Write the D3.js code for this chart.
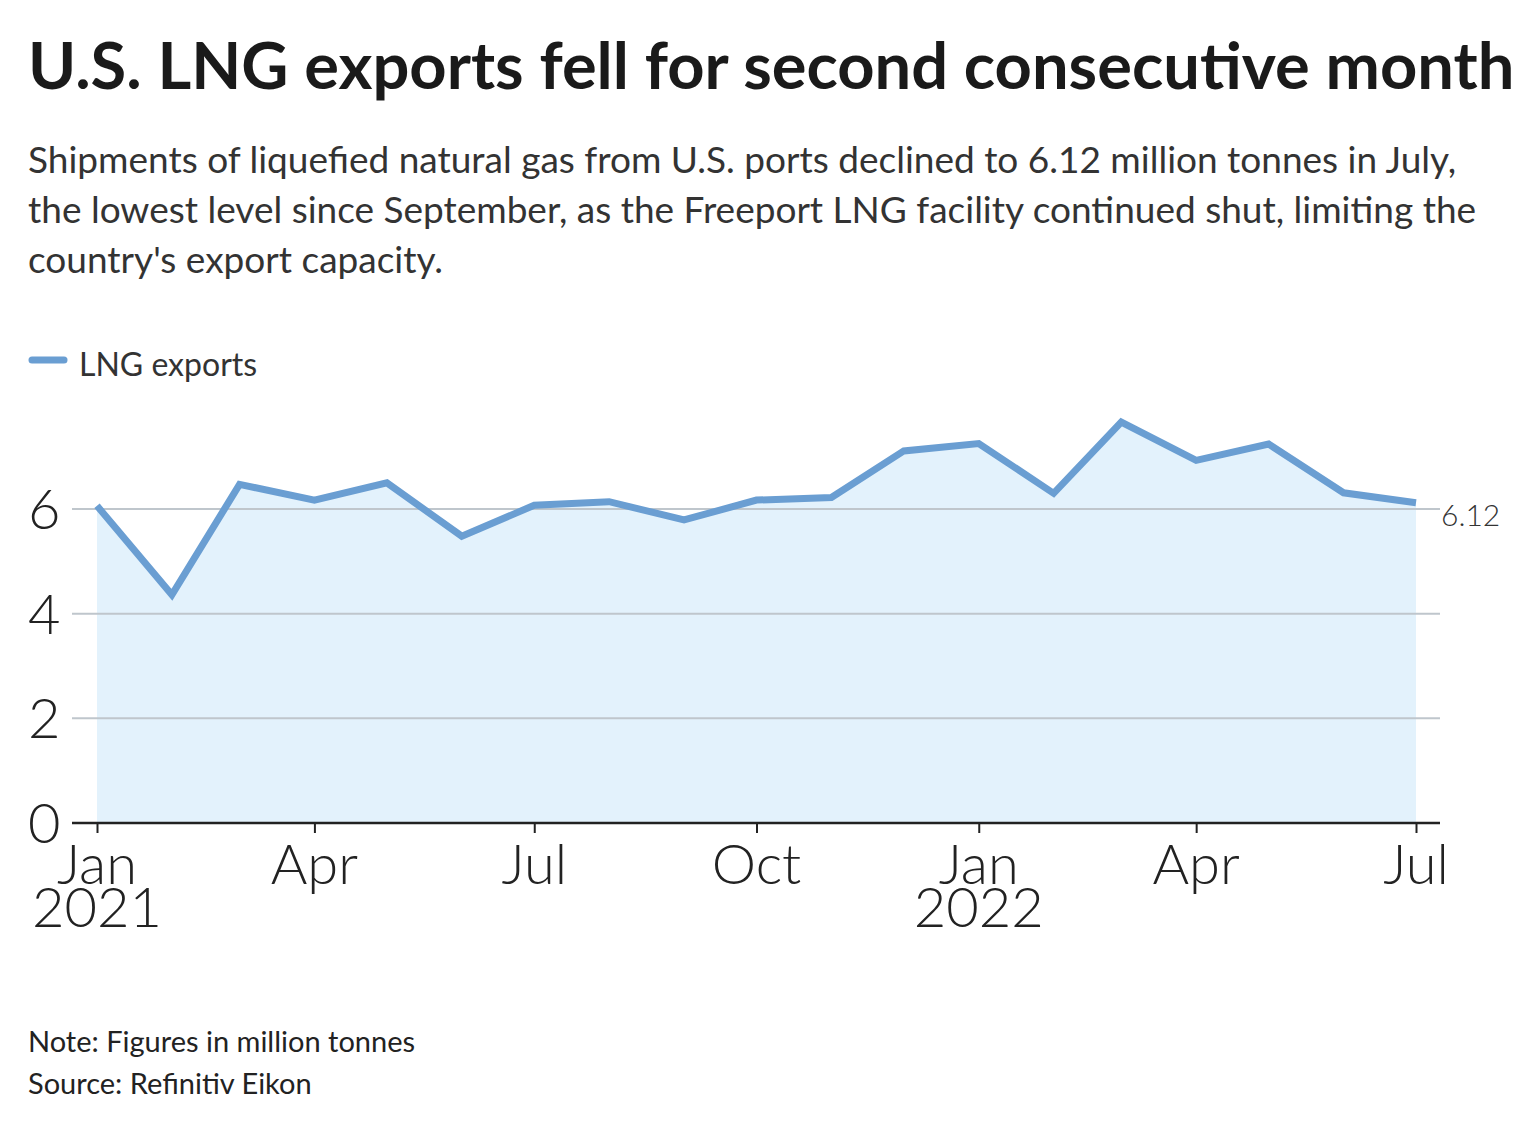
<!DOCTYPE html>
<html>
<head>
<meta charset="utf-8">
<script src="https://cdn.jsdelivr.net/npm/d3@7"></script>
<style>
  body { margin: 0; background: #fff; }
  svg { display: block; font-family: "Source Sans Pro", Lato, "Open Sans", sans-serif; }
</style>
</head>
<body>
<script>
// monthly LNG exports, million tonnes
var months = ["2021-01", "2021-02", "2021-03", "2021-04", "2021-05", "2021-06", "2021-07",
    "2021-08", "2021-09", "2021-10", "2021-11", "2021-12", "2022-01", "2022-02",
    "2022-03", "2022-04", "2022-05", "2022-06", "2022-07"];
var exportsMt = [6.06, 4.36, 6.47, 6.17, 6.50, 5.48, 6.07, 6.14, 5.79, 6.17, 6.22,
    7.11, 7.25, 6.30, 7.66, 6.93, 7.24, 6.31, 6.12];
var yTicks = [0, 2, 4, 6];
var xTicks = ["2021-01", "2021-04", "2021-07", "2021-10", "2022-01", "2022-04", "2022-07"];

var title = "U.S. LNG exports fell for second consecutive month";
var subtitle = [
    "Shipments of liquefied natural gas from U.S. ports declined to 6.12 million tonnes in July,",
    "the lowest level since September, as the Freeport LNG facility continued shut, limiting the",
    "country's export capacity."
];

var width = 1536, height = 1124;

var parse = d3.timeParse("%Y-%m");
var data = months.map(function (m, i) { return { date: parse(m), value: exportsMt[i] }; });

var svg = d3.select("body").append("svg")
    .attr("width", width)
    .attr("height", height);

svg.append("text")
    .attr("x", 28).attr("y", 89)
    .style("font-size", "65px").style("font-weight", 700).style("fill", "#1a1a1a")
    .text(title);

svg.append("g").selectAll("text")
    .data(subtitle).enter().append("text")
    .attr("x", 28)
    .attr("y", function (d, i) { return 173 + i * 50; })
    .style("font-size", "37px").style("fill", "#333")
    .text(function (d) { return d; });

// legend
svg.append("line")
    .attr("x1", 32).attr("x2", 64).attr("y1", 360).attr("y2", 360)
    .style("stroke", "#6a9ed2").style("stroke-width", 7).style("stroke-linecap", "round");
svg.append("text")
    .attr("x", 79).attr("y", 376)
    .style("font-size", "32px").style("fill", "#333")
    .text("LNG exports");

var x = d3.scaleTime()
    .domain(d3.extent(data, function (d) { return d.date; }))
    .range([97, 1416]);

var y = d3.scaleLinear()
    .domain([0, 6])
    .range([823, 509]);

var area = d3.area()
    .x(function (d) { return x(d.date); })
    .y0(y(0))
    .y1(function (d) { return y(d.value); });

var line = d3.line()
    .x(function (d) { return x(d.date); })
    .y(function (d) { return y(d.value); });

svg.append("path").datum(data)
    .attr("d", area)
    .style("fill", "#e3f2fc");

// grid
svg.append("g").selectAll("line")
    .data(yTicks.filter(function (t) { return t > 0; })).enter().append("line")
    .attr("x1", 72).attr("x2", 1440)
    .attr("y1", function (d) { return y(d); }).attr("y2", function (d) { return y(d); })
    .style("stroke", "#bfc6cc").style("stroke-width", 2);

svg.append("path").datum(data)
    .attr("d", line)
    .style("fill", "none")
    .style("stroke", "#6a9ed2")
    .style("stroke-width", 7)
    .style("stroke-linejoin", "miter");

// y labels
svg.append("g").selectAll("text")
    .data(yTicks).enter().append("text")
    .attr("x", 28)
    .attr("y", function (d) { return y(d) + 20; })
    .style("font-size", "56px").style("font-weight", 300).style("fill", "#222")
    .text(function (d) { return d; });

// x axis
var xAxis = d3.axisBottom(x)
    .tickValues(xTicks.map(parse))
    .tickSize(10)
    .tickFormat("");

var gx = svg.append("g")
    .attr("transform", "translate(0," + y(0) + ")")
    .call(xAxis);
gx.select(".domain").remove();
gx.selectAll(".tick line").style("stroke", "#222").style("stroke-width", 2);

svg.append("line")
    .attr("x1", 72).attr("x2", 1440).attr("y1", y(0)).attr("y2", y(0))
    .style("stroke", "#222").style("stroke-width", 2.5);

var fmtMonth = d3.timeFormat("%b");
var xl = svg.append("g").selectAll("text")
    .data(xTicks.map(parse)).enter().append("text")
    .attr("y", 884)
    .attr("text-anchor", "middle")
    .style("font-size", "56px").style("font-weight", 300).style("fill", "#222");
xl.append("tspan")
    .attr("x", function (d) { return x(d); })
    .text(function (d) { return fmtMonth(d); });
xl.filter(function (d) { return d.getMonth() === 0; })
    .append("tspan")
    .attr("x", function (d) { return x(d); })
    .attr("dy", 43)
    .text(function (d) { return d.getFullYear(); });

// last value label
var last = data[data.length - 1];
svg.append("text")
    .attr("x", 1441).attr("y", y(last.value) + 23)
    .style("font-size", "30px").style("font-weight", 300).style("fill", "#333")
    .text(last.value.toFixed(2));

svg.append("text")
    .attr("x", 28).attr("y", 1052)
    .style("font-size", "29px").style("fill", "#222")
    .text("Note: Figures in million tonnes");
svg.append("text")
    .attr("x", 28).attr("y", 1094)
    .style("font-size", "29px").style("fill", "#222")
    .text("Source: Refinitiv Eikon");
</script>
</body>
</html>
